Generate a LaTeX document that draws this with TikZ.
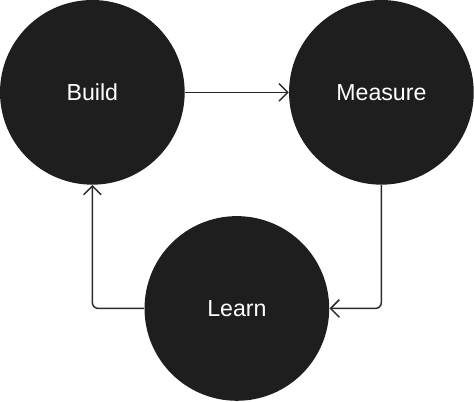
\documentclass[tikz,border=0pt]{standalone}
\usepackage{fontspec}
\setmainfont{Liberation Sans}
\usepackage{tikz}
\usepackage{xcolor}
\usetikzlibrary{arrows.meta,calc,positioning}
\tikzset{%
  arrow/.style={line width=1.05pt,draw=myline,-{Straight Barb[length=2.2mm,width=4.4mm,line width=1.05pt]},rounded corners=1.5mm},
  stage/.style={circle,fill=mydark,text=white,minimum size=4.625cm,inner sep=0pt},
}
\definecolor{mydark}{HTML}{1E1E1E}
\definecolor{myline}{HTML}{2A2A2A}

\begin{document}
\begin{tikzpicture}[node distance=2.6cm,font=\fontsize{16.5}{19}\selectfont]
      \node[stage] (build) {Build};
      \node[stage,right=of build] (measure) {Measure};
      \node[stage] (learn) at ($(build)!0.5!(measure)+(0,-5.4125)$) {Learn};

      \useasboundingbox (build.north west) rectangle (measure.east |- learn.south);

      \draw[arrow] (build) -- (measure);
      \draw[arrow] (measure) |- (learn);
      \draw[arrow] (learn) -| (build);
    \end{tikzpicture}
\end{document}
